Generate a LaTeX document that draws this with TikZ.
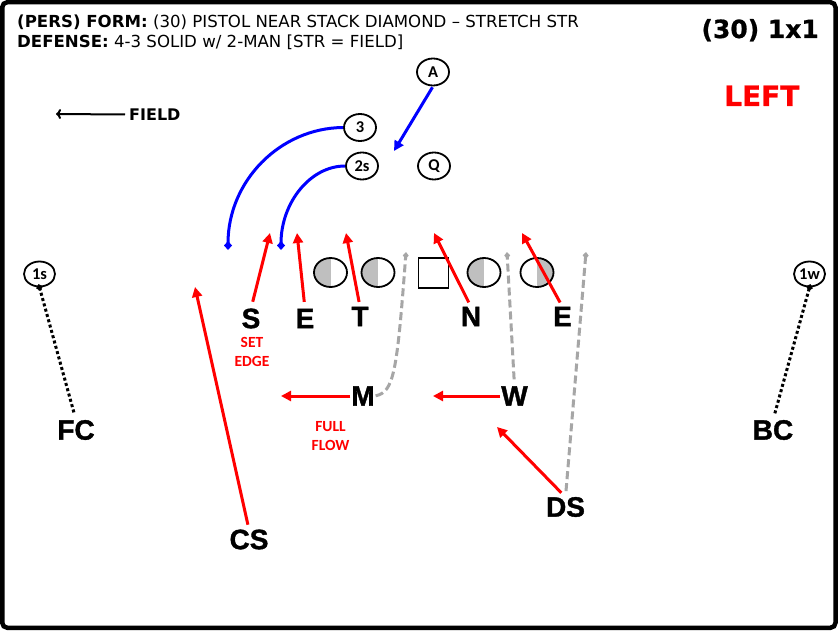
\documentclass[tikz,border=0pt]{standalone}
\usepackage{fontspec}
\setmainfont{DejaVu Sans}
\newfontfamily\libsans[FakeBold=1.3]{Liberation Sans Bold}
\newfontfamily\heavysans[FakeBold=0.8]{DejaVu Sans Bold}
\newfontfamily\carl{Carlito}
\usetikzlibrary{arrows.meta,shapes.geometric}
\definecolor{dashgray}{RGB}{166,166,166}
\definecolor{halfgray}{RGB}{191,191,191}
\definecolor{pblue}{RGB}{0,0,255}
\definecolor{pred}{RGB}{255,0,0}
\begin{document}
\begin{tikzpicture}[x=1pt,y=-1pt,
  offp/.style={ellipse, draw, line width=1.8pt, minimum width=32pt, minimum height=27pt, inner sep=0pt,
    font=\carl\bfseries\fontsize{16.5}{16.5}\selectfont},
  lineL/.style={ellipse, draw, line width=1.8pt, minimum width=33pt, minimum height=29pt, inner sep=0pt,
    path picture={\fill[halfgray] (path picture bounding box.south west) rectangle (path picture bounding box.north);}},
  lineR/.style={ellipse, draw, line width=1.8pt, minimum width=33pt, minimum height=29pt, inner sep=0pt,
    path picture={\fill[halfgray] (path picture bounding box.south) rectangle (path picture bounding box.north east);}},
  defp/.style={inner sep=0pt, outer sep=0pt, font=\libsans\fontsize{28}{28}\selectfont},
  note/.style={text=pred, align=center, inner sep=0pt, font=\carl\bfseries\fontsize{15.5}{19}\selectfont},
  redarr/.style={draw=pred, line width=3pt, -{Triangle[length=10pt,width=10pt]}},
  bluearr/.style={draw=pblue, line width=3pt, -{Triangle[length=10pt,width=10pt]}},
  bluedia/.style={draw=pblue, line width=3pt, -{Diamond[length=9pt,width=8pt]}},
  graydash/.style={draw=dashgray, line width=3pt, dash pattern=on 8pt off 4pt, -{Diamond[length=7pt,width=6pt]}},
  dotline/.style={draw=black, line width=3pt, dash pattern=on 3pt off 2.5pt, -{Diamond[length=7pt,width=7pt]}, shorten >=-3.5pt}
]
\useasboundingbox (0,0) rectangle (840,631);
\fill[white] (0,0) rectangle (840,631);
\draw[line width=4.5pt, rounded corners=5pt] (2.25,2.25) rectangle (835.5,627.75);

% titles
\node[anchor=base west, inner sep=0pt, font=\fontsize{16.6}{17}\selectfont] (title1) at (17,27.5)
  {\textbf{(PERS) FORM:} (30) PISTOL NEAR STACK DIAMOND – STRETCH STR};
\node[anchor=base west, inner sep=0pt, font=\fontsize{16.6}{17}\selectfont] (title2) at (17,48)
  {\textbf{DEFENSE:} 4-3 SOLID w/ 2-MAN [STR = FIELD]};
\node[anchor=base east, inner sep=0pt, font=\heavysans\fontsize{25}{25}\selectfont] (form) at (819,38) {(30) 1x1};
\node[anchor=base west, inner sep=0pt, text=pred, font=\heavysans\fontsize{28}{28}\selectfont] (left) at (724,106) {LEFT};

% field indicator
\node[anchor=west, inner sep=0pt, font=\bfseries\fontsize{16}{16}\selectfont] (field) at (129,114.5) {FIELD};
\coordinate (fieldtip) at (56,114);
\draw[line width=2pt, -{To[length=5pt,width=10pt]}] ([xshift=-4pt]field.west) -- (fieldtip);

% offense
\node[offp] (A) at (433,72) {A};
\node[offp] (three) at (360,127.5) {3};
\node[offp] (twos) at (362,166) {2s};
\node[offp] (Q) at (434,166) {Q};
\node[offp, minimum width=31pt, minimum height=25pt] (ones) at (39.5,274) {1s};
\node[offp, minimum width=31pt, minimum height=25pt] (onew) at (809.5,274) {1w};

\node[lineL] (lg) at (330.5,272.5) {};
\node[lineL] (lt) at (378,272.5) {};
\node[draw, line width=1.8pt, minimum size=30pt, inner sep=0pt] (ctr) at (433.5,273) {};
\node[lineL] (rg) at (484,272.5) {};
\node[lineR] (rt) at (537,272.5) {};

% defense
\node[defp] (S) at (251,318.5) {S};
\node[defp] (E1) at (305,318.5) {E};
\node[defp] (T) at (360,316.5) {T};
\node[defp] (N) at (471,316.5) {N};
\node[defp] (E2) at (562.5,316.5) {E};
\node[defp] (M) at (363,396) {M};
\node[defp] (W) at (514.5,396) {W};
\node[defp] (DS) at (565.5,507) {DS};
\node[defp] (CS) at (249,539.5) {CS};
\node[defp] (FC) at (76,430) {FC};
\node[defp] (BC) at (773,430) {BC};

\node[note] (setedge) at (252,351.5) {SET\\EDGE};
\node[note] (fullflow) at (330.5,436) {FULL\\FLOW};

% endpoints
\coordinate (tS) at (270,233);
\coordinate (tE1) at (297,233);
\coordinate (tT) at (346,233);
\coordinate (tN) at (434,233);
\coordinate (tE2) at (522,233);
\coordinate (tCS) at (195,287);
\coordinate (tM) at (281,396);
\coordinate (tW) at (433,396);
\coordinate (tDS) at (497,427);
\coordinate (tA) at (394,151);
\coordinate (b3) at (228,250);
\coordinate (b2) at (281,250);
\coordinate (g1) at (406,252);
\coordinate (g2) at (507,252);
\coordinate (g3) at (586,252);

% blue routes
\draw[bluearr, shorten <=1pt] (A.south) -- (tA);
\draw[bluedia] (three.west) .. controls (280,128) and (228,181) .. (b3);
\draw[bluedia] (twos.west) .. controls (310,166) and (281,203) .. (b2);

% gray dashed
\draw[graydash, shorten <=1pt] (M.east) .. controls (394,392) and (397,372) .. (g1);
\draw[graydash, shorten <=7pt] (W.north) -- (g2);
\draw[graydash, shorten <=6pt] (DS.north) -- (g3);

% red fits
\draw[redarr, shorten <=7pt] (S.north) -- (tS);
\draw[redarr, shorten <=7pt] (E1.north) -- (tE1);
\draw[redarr, shorten <=5pt] (T.north) -- (tT);
\draw[redarr, shorten <=5pt] (N.north) -- (tN);
\draw[redarr, shorten <=5pt] (E2.north) -- (tE2);
\draw[redarr, shorten <=5pt] (CS.north) -- (tCS);
\draw[redarr, shorten <=1pt] (M.west) -- (tM);
\draw[redarr, shorten <=1pt] (W.west) -- (tW);
\draw[redarr, shorten <=6pt] (DS.north) -- (tDS);

% dotted
\draw[dotline, shorten <=8pt] (FC.north) -- (ones.south);
\draw[dotline, shorten <=7pt] (BC.north) -- (onew.south);
\end{tikzpicture}
\end{document}
